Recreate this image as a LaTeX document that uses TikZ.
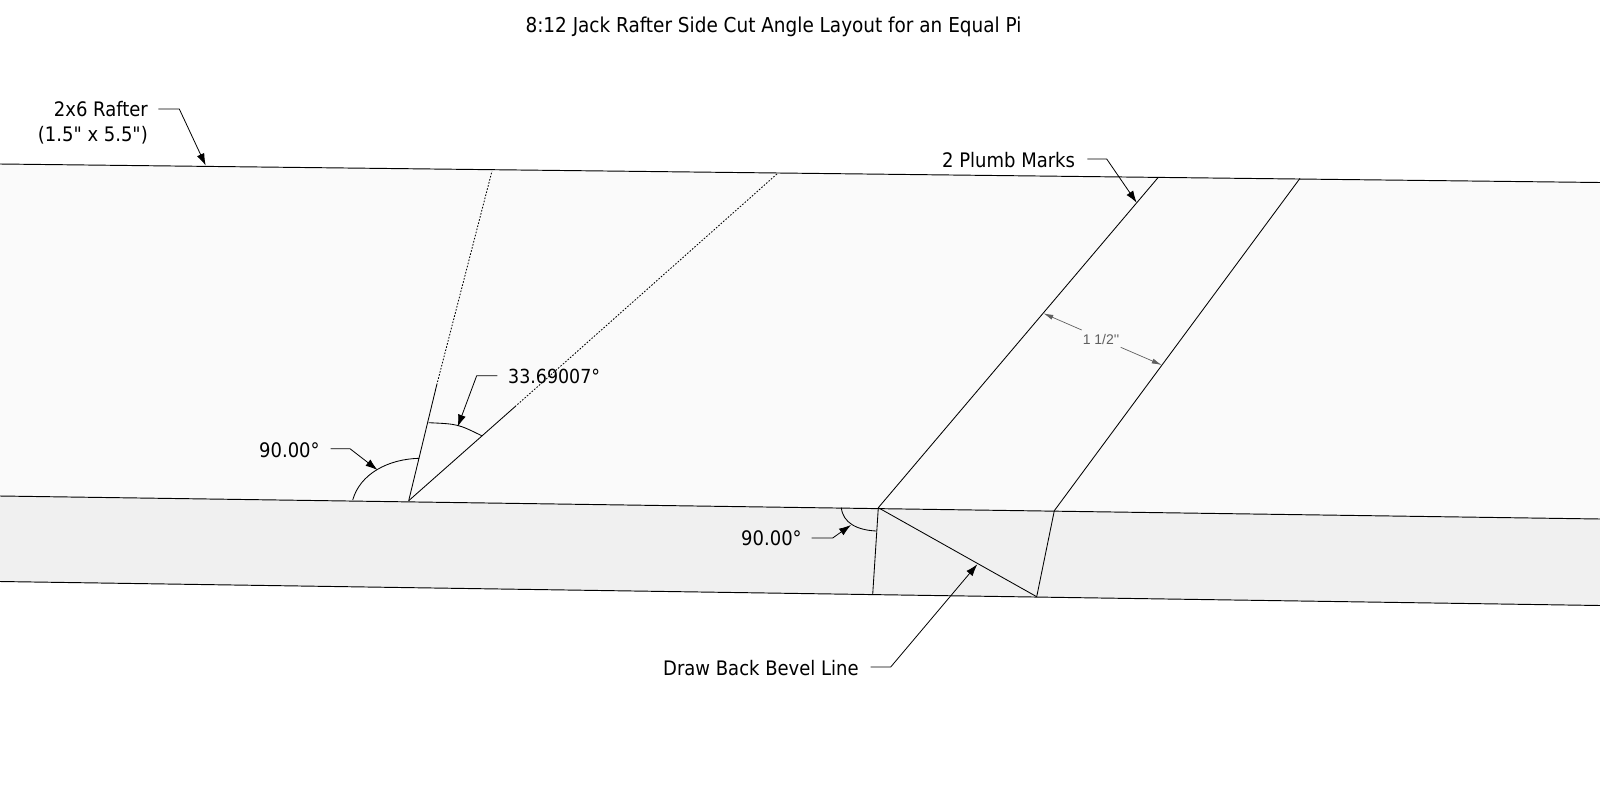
\documentclass[tikz,border=0pt]{standalone}
\usepackage{fontspec}
\usetikzlibrary{arrows.meta}
\newfontfamily\notefont{DejaVu Sans Condensed}
\newfontfamily\dimfont{Liberation Sans}
\definecolor{topface}{HTML}{FAFAFA}
\definecolor{sideface}{HTML}{F0F0F0}
\definecolor{dimgrey}{HTML}{5F5F5F}
\tikzset{
  edgeline/.style={line width=0.95pt,black},
  markline/.style={line width=0.85pt,black},
  dotline/.style={line width=0.85pt,black,dash pattern=on 1.6pt off 1.6pt},
  arcline/.style={line width=0.85pt,black},
  leader/.style={line width=0.8pt,black,-{Latex[length=12pt,width=8pt]}},
  dimline/.style={line width=0.7pt,dimgrey,-{Latex[length=10pt,width=5pt]}},
  note/.style={font=\notefont\fontsize{20}{24.5}\selectfont,inner sep=0pt,text=black},
  dimtext/.style={font=\dimfont\fontsize{14}{16}\selectfont,inner sep=0pt,text=dimgrey}
}
\begin{document}
\begin{tikzpicture}[x=1pt,y=-1pt]
\useasboundingbox (0,0) rectangle (1600,811);
% body corners
\coordinate (TL) at (0,164); \coordinate (TR) at (1600,182.5);
\coordinate (ML) at (0,496); \coordinate (MR) at (1600,519);
\coordinate (BL) at (0,581.5); \coordinate (BR) at (1600,605.5);
\fill[topface] (TL) -- (TR) -- (MR) -- (ML) -- cycle;
\fill[sideface] (ML) -- (MR) -- (BR) -- (BL) -- cycle;
\draw[edgeline] (TL) -- (TR);
\draw[edgeline] (ML) -- (MR);
\draw[edgeline] (BL) -- (BR);
% angle layout
\coordinate (apex) at (408.7,500.7);
\coordinate (sa) at (436.7,385); \coordinate (sat) at (492,171);
\coordinate (sb) at (515,406.7); \coordinate (sbt) at (777.5,173.5);
\draw[markline] (apex) -- (sa);
\draw[dotline] (sa) -- (sat);
\draw[markline] (apex) -- (sb);
\draw[dotline] (sb) -- (sbt);
\draw[arcline] (428.7,422.7) .. controls (457.9,424) .. (482.3,436);
\draw[arcline] (352.7,500) .. controls (360,474) and (388,459) .. (419.3,458.3);
% plumb marks
\coordinate (p1b) at (878.3,507.7); \coordinate (p1t) at (1158.3,177.3);
\coordinate (p2b) at (1054.3,510.7); \coordinate (p2t) at (1300,178.3);
\coordinate (q1) at (872.7,594.3); \coordinate (q2) at (1036.7,596.7);
\draw[markline] (p1b) -- (p1t);
\draw[markline] (p2b) -- (p2t);
\draw[markline] (p1b) -- (q1);
\draw[markline] (p2b) -- (q2);
\draw[markline] (p1b) -- (q2);
\draw[arcline] (841.3,507.7) .. controls (843,523) and (857,530) .. (876,531);
% title
\node[note,anchor=center,font=\notefont\fontsize{20.5}{24}\selectfont] (title) at (773.5,27) {8:12 Jack Rafter Side Cut Angle Layout for an Equal Pi};
% labels
\node[note,anchor=east,align=right] (raft) at (148,122.5) {2x6 Rafter\\(1.5" x 5.5")};
\node[note,anchor=west] (plumb) at (942,160) {2 Plumb Marks};
\node[note,anchor=west,font=\notefont\fontsize{19.4}{24}\selectfont] (ang) at (508,376) {33.69007°};
\node[note,anchor=west] (nineA) at (259,450) {90.00°};
\node[note,anchor=west] (nineB) at (741,538.5) {90.00°};
\node[note,anchor=west] (bevel) at (663,668) {Draw Back Bevel Line};
% leaders
\coordinate (l1a) at (158.3,109); \coordinate (l1b) at (179.3,109); \coordinate (l1c) at (205.7,165.5);
\draw[leader] (l1a) -- (l1b) -- (l1c);
\coordinate (l2a) at (1087.3,159); \coordinate (l2b) at (1106.7,159); \coordinate (l2c) at (1136.7,202.7);
\draw[leader] (l2a) -- (l2b) -- (l2c);
\coordinate (l3a) at (497.3,375.7); \coordinate (l3b) at (476.7,375.7); \coordinate (l3c) at (457.7,426.7);
\draw[leader] (l3a) -- (l3b) -- (l3c);
\coordinate (l4a) at (330.5,448.7); \coordinate (l4b) at (350,448.7); \coordinate (l4c) at (377.5,470);
\draw[leader] (l4a) -- (l4b) -- (l4c);
\coordinate (l5a) at (811.7,538); \coordinate (l5b) at (832.7,538); \coordinate (l5c) at (851,525);
\draw[leader] (l5a) -- (l5b) -- (l5c);
\coordinate (l6a) at (870.7,667); \coordinate (l6b) at (890.7,667); \coordinate (l6c) at (977.3,564.3);
\draw[leader] (l6a) -- (l6b) -- (l6c);
% dimension
\node[dimtext] (dim) at (1101,339) {1 1/2''};
\coordinate (d1) at (1043.3,313.3); \coordinate (d2) at (1161.7,365);
\coordinate (d1s) at (1081.7,330); \coordinate (d2s) at (1120.7,347.3);
\draw[dimline] (d1s) -- (d1);
\draw[dimline] (d2s) -- (d2);
\end{tikzpicture}
\end{document}
